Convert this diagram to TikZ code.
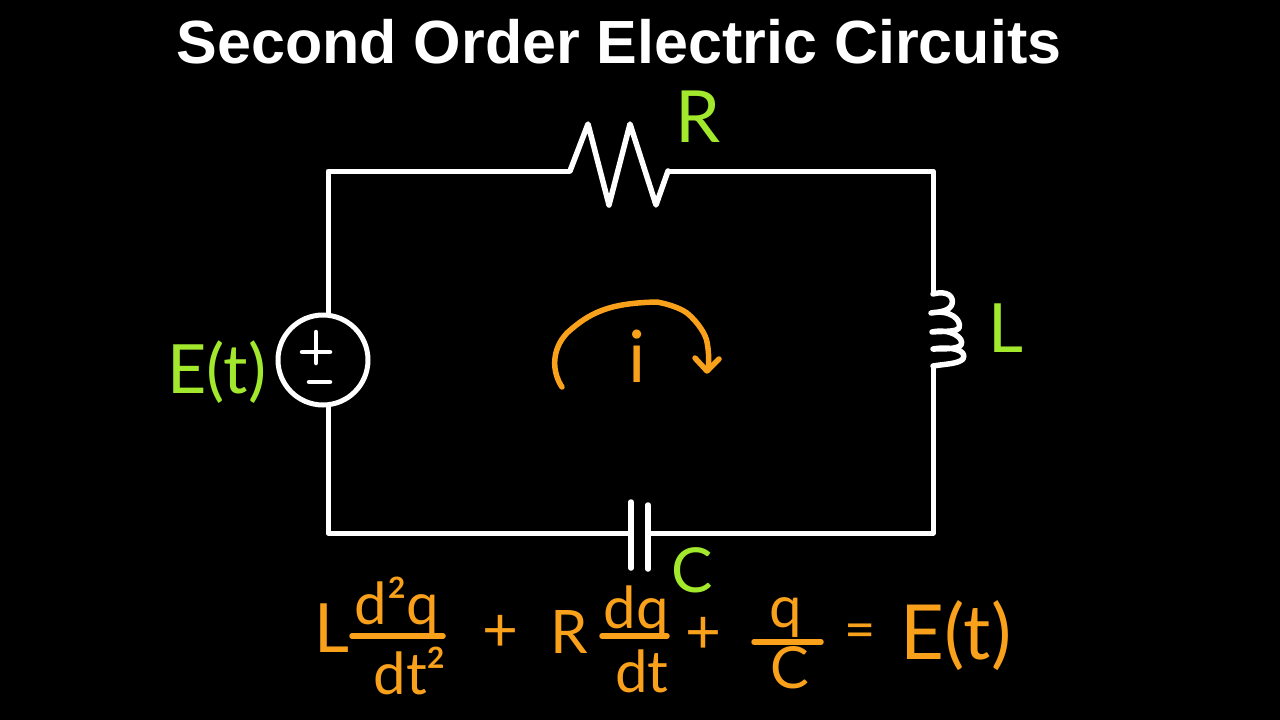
\documentclass[tikz,border=0pt]{standalone}
\usepackage{fontspec}
\setmainfont{Lato}
\newfontfamily\titlefont{Liberation Sans}[BoldFont={Liberation Sans Bold}]
\definecolor{wlime}{HTML}{A2E82C}
\definecolor{worange}{HTML}{F9A11B}
\tikzset{
  wire/.style={draw=white,line width=5pt,line join=round},
  softwire/.style={draw=white,line width=5.5pt,line cap=round,line join=round},
  orangeline/.style={draw=worange,line width=5.5pt,line cap=round,line join=round},
  limelabel/.style={text=wlime,inner sep=0pt},
  eqlabel/.style={text=worange,inner sep=0pt},
}
\begin{document}
\begin{tikzpicture}[x=1pt,y=-1pt]
\useasboundingbox (0,0) rectangle (1280,720);
\fill[black] (0,0) rectangle (1280,720);
\node[text=white,inner sep=0pt,font=\titlefont\bfseries\fontsize{61}{62}\selectfont] (title) at (619,42) {Second Order Electric Circuits};
% corners and terminals
\coordinate (tl) at (328,171);
\coordinate (tr) at (933,171);
\coordinate (bl) at (328,533);
\coordinate (br) at (933,533);
\coordinate (rA) at (570,171);
\coordinate (rB) at (668,171);
\coordinate (lA) at (933,294);
\coordinate (lB) at (933,366);
\coordinate (cA) at (629,533);
\coordinate (cB) at (650,533);
% source
\node[circle,draw=white,line width=5pt,minimum size=90pt,inner sep=0pt] (src) at (323,360) {};
\coordinate (sT) at (328,315);
\coordinate (sB) at (328,405);
\draw[wire] (sT) -- (tl) -- (rA);
\draw[wire] (rB) -- (tr) -- (lA);
\draw[wire] (lB) -- (br) -- (cB);
\draw[wire] (cA) -- (bl) -- (sB);
% resistor
\draw[softwire] (rA) -- (588,124) -- (609,205) -- (630,124) -- (656,205) -- (rB);
% inductor
\draw[softwire] (lA) .. controls (948,290) and (954,297) .. (952,304)
  .. controls (950,311) and (940,312) .. (931,313)
  .. controls (950,309) and (962,320) .. (959,328)
  .. controls (956,332) and (945,331) .. (932,332)
  .. controls (950,328) and (965,338) .. (961,345)
  .. controls (957,349) and (945,349) .. (933,349)
  .. controls (950,346) and (968,350) .. (963,359)
  .. controls (958,364) and (945,364) .. (lB);
% capacitor
\draw[softwire] (631,502) -- (631,568);
\draw[softwire] (648,505) -- (648,569);
% source signs
\draw[softwire,line width=4.5pt] (316,332) -- (316,363);
\draw[softwire,line width=4.5pt] (302,352) -- (330,352);
\draw[softwire,line width=4.5pt] (309,382) -- (330,382);
% labels
\node[limelabel,font=\fontsize{72}{72}\selectfont] (lR) at (698,117) {R};
\node[limelabel,font=\fontsize{68}{68}\selectfont] (lL) at (1006,328) {L};
\node[limelabel,font=\fontsize{62}{62}\selectfont] (lC) at (692,570) {C};
\node[limelabel,font=\fontsize{68}{68}\selectfont] (lE) at (217,372) {E(t)};
% current
\draw[orangeline] (562,387) .. controls (552,372) and (551,350) .. (567,333)
  .. controls (590,312) and (610,303) .. (657,302)
  .. controls (668,304) and (680,308) .. (687,313)
  .. controls (698,322) and (706,335) .. (707,342)
  .. controls (709,352) and (709,362) .. (708,370);
\draw[orangeline] (695,358) -- (707,371) -- (719,359);
\node[eqlabel,font=\fontsize{72}{72}\selectfont] (cur) at (637,356) {i};
% equation
\node[eqlabel,font=\fontsize{68}{68}\selectfont] (eL) at (332,628) {L};
\node[eqlabel,font=\fontsize{58}{58}\selectfont] (eN1) at (397,606) {d²q};
\coordinate (f1a) at (352,636); \coordinate (f1b) at (443,636);
\draw[orangeline] (f1a) -- (f1b);
\node[eqlabel,font=\fontsize{58}{58}\selectfont] (eD1) at (410,671) {dt²};
\node[eqlabel,font=\fontsize{62}{62}\selectfont] (eP1) at (500,633) {+};
\node[eqlabel,font=\fontsize{60}{60}\selectfont] (eR) at (569,632) {R};
\node[eqlabel,font=\fontsize{58}{58}\selectfont] (eN2) at (636,612) {dq};
\coordinate (f2a) at (602,636); \coordinate (f2b) at (667,636);
\draw[orangeline] (f2a) -- (f2b);
\node[eqlabel,font=\fontsize{58}{58}\selectfont] (eD2) at (642,671) {dt};
\node[eqlabel,font=\fontsize{62}{62}\selectfont] (eP2) at (703,635) {+};
\node[eqlabel,font=\fontsize{58}{58}\selectfont] (eN3) at (786,618) {q};
\coordinate (f3a) at (754,642); \coordinate (f3b) at (821,642);
\draw[orangeline] (f3a) -- (f3b);
\node[eqlabel,font=\fontsize{58}{58}\selectfont] (eD3) at (790,668) {C};
\node[eqlabel,font=\fontsize{54}{54}\selectfont] (eEq) at (860,636) {=};
\node[eqlabel,font=\fontsize{76}{76}\selectfont] (eE) at (956,636) {E(t)};
\end{tikzpicture}
\end{document}
